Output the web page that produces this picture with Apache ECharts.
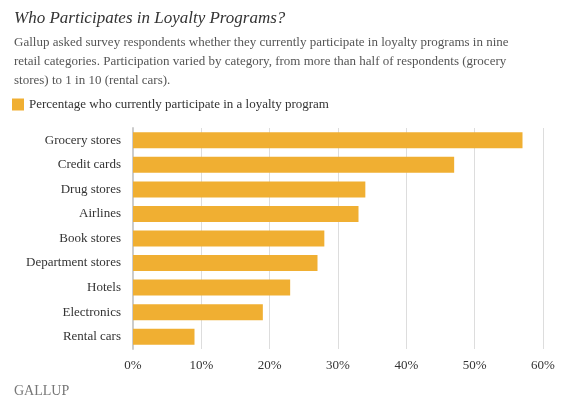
<!DOCTYPE html>
<html>
<head>
<meta charset="utf-8">
<script src="https://cdn.jsdelivr.net/npm/echarts@6/dist/echarts.min.js"></script>
<style>body{margin:0}#chart{width:564px;height:404px}</style>
</head>
<body>
<div id="chart"></div>
<script>
var categories = ['Grocery stores', 'Credit cards', 'Drug stores', 'Airlines', 'Book stores', 'Department stores', 'Hotels', 'Electronics', 'Rental cars'];
var values = [57, 47, 34, 33, 28, 27, 23, 19, 9];
var seriesName = 'Percentage who currently participate in a loyalty program';

var serif = '"Liberation Serif", "DejaVu Serif", serif';
var chart = echarts.init(document.getElementById('chart'));
chart.setOption({
  backgroundColor: '#fff',
  animation: false,
  title: [{
    text: 'Who Participates in Loyalty Programs?',
    left: 9, top: 5,
    textStyle: {fontFamily: serif, fontStyle: 'italic', fontWeight: 'normal', fontSize: 17, color: '#333'}
  }, {
    text: 'Gallup asked survey respondents whether they currently participate in loyalty programs in nine\nretail categories. Participation varied by category, from more than half of respondents (grocery\nstores) to 1 in 10 (rental cars).',
    left: 9, top: 28,
    textStyle: {fontFamily: serif, fontWeight: 'normal', fontSize: 13, lineHeight: 19, color: '#555'}
  }, {
    text: 'GALLUP',
    left: 9, top: 379,
    textStyle: {fontFamily: serif, fontWeight: 'normal', fontSize: 14, color: '#777'}
  }],
  legend: {
    left: 7, top: 93,
    itemWidth: 12, itemHeight: 12, icon: 'rect',
    textStyle: {fontFamily: serif, fontSize: 13, color: '#333'},
    data: [seriesName]
  },
  grid: {left: 133, right: 21, top: 128, bottom: 55},
  xAxis: {
    type: 'value', min: 0, max: 60, interval: 10,
    axisLabel: {formatter: '{value}%', fontFamily: serif, fontSize: 13, color: '#333', margin: 10},
    splitLine: {lineStyle: {color: '#ddd'}},
    axisLine: {show: false}, axisTick: {show: false}
  },
  yAxis: {
    type: 'category', inverse: true, data: categories,
    axisLabel: {fontFamily: serif, fontSize: 13, color: '#333', margin: 12},
    axisLine: {lineStyle: {color: '#ccc', width: 2}},
    axisTick: {show: false}
  },
  series: [{
    name: seriesName, type: 'bar', data: values,
    barWidth: 16,
    itemStyle: {color: '#F0AF32'}
  }]
});
</script>
</body>
</html>
